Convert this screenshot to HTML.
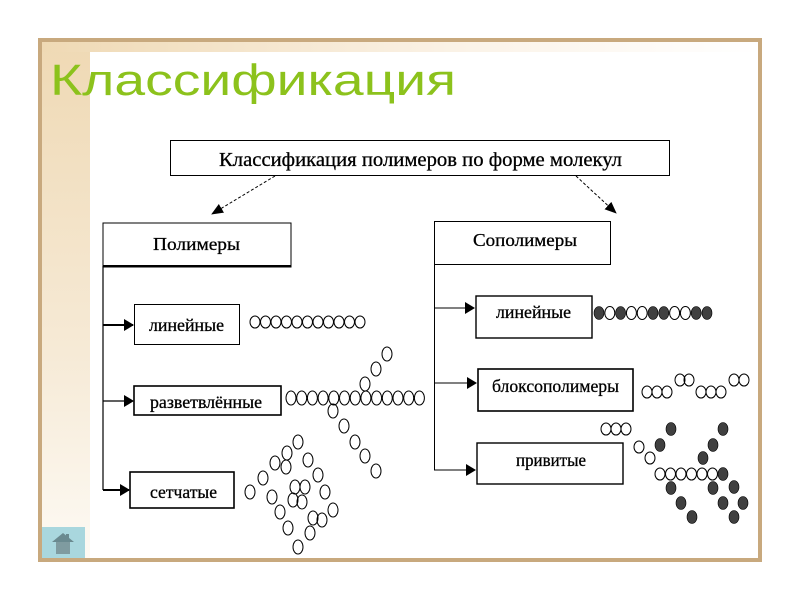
<!DOCTYPE html>
<html><head><meta charset="utf-8"><style>
html,body{margin:0;padding:0;background:#fff;}
body{width:800px;height:600px;position:relative;overflow:hidden;}
</style></head><body>
<svg width="800" height="600" viewBox="0 0 800 600" xmlns="http://www.w3.org/2000/svg">
<defs>
<linearGradient id="side" x1="0" y1="0" x2="0" y2="1">
<stop offset="0" stop-color="#efd9b4"/><stop offset="0.6" stop-color="#f6ead6"/><stop offset="1" stop-color="#fdfaf4"/>
</linearGradient>
<linearGradient id="top" x1="0" y1="0" x2="1" y2="0">
<stop offset="0" stop-color="#efd9b4"/><stop offset="0.6" stop-color="#fbf3e8"/><stop offset="1" stop-color="#ffffff"/>
</linearGradient>
<marker id="ah" markerWidth="8" markerHeight="8" refX="7" refY="4" orient="auto" markerUnits="userSpaceOnUse">
<path d="M0,0 L8,4 L0,8 z" fill="#000"/></marker>
<marker id="ahb" markerWidth="10" markerHeight="12" refX="9" refY="6" orient="auto" markerUnits="userSpaceOnUse">
<path d="M0,0 L10,6 L0,12 z" fill="#000"/></marker>
<marker id="ahd" markerWidth="12" markerHeight="12" refX="11" refY="6" orient="auto" markerUnits="userSpaceOnUse">
<path d="M0,1 L12,6 L0,11 z" fill="#000"/></marker>
</defs>
<rect x="0" y="0" width="800" height="600" fill="#fff"/>
<rect x="40" y="40" width="50" height="520" fill="url(#side)"/>
<rect x="40" y="40" width="720" height="12" fill="url(#top)"/>
<rect x="40" y="40" width="720" height="520" fill="none" stroke="#c8a97e" stroke-width="4"/>
<text x="50" y="95" font-family="Liberation Sans, DejaVu Sans, sans-serif" font-size="44" fill="#8cc21c" textLength="406" lengthAdjust="spacingAndGlyphs">Классификация</text>
<g>
<rect x="42" y="527" width="43" height="31" fill="#a9d7de"/>
<path d="M52,542 L63,533 L74,542 z" fill="#6a8a90"/>
<rect x="56" y="542" width="14" height="12" fill="#7f9ba0"/>
<rect x="66" y="534" width="3" height="6" fill="#6a8a90"/>
</g>

<g font-family="Liberation Serif, serif" fill="#000" stroke="#000" stroke-width="0.3">
<rect x="170.5" y="140.5" width="499" height="35" fill="#fff" stroke="#000" stroke-width="1"/>
<text x="219" y="166" font-size="20" textLength="403" lengthAdjust="spacingAndGlyphs">Классификация полимеров по форме молекул</text>
<text x="153" y="250" font-size="18" textLength="87" lengthAdjust="spacingAndGlyphs">Полимеры</text>
<text x="149" y="331" font-size="18" textLength="75" lengthAdjust="spacingAndGlyphs">линейные</text>
<text x="473" y="246" font-size="18" textLength="104" lengthAdjust="spacingAndGlyphs">Сополимеры</text>
</g>
<g font-family="Liberation Serif, serif" fill="#000">
<line x1="275" y1="176" x2="212" y2="214" stroke="#000" stroke-dasharray="3,2" marker-end="url(#ahd)"/>
<line x1="576" y1="176" x2="616" y2="213" stroke="#000" stroke-dasharray="3,2" marker-end="url(#ahd)"/>

<rect x="103" y="223" width="188" height="44" fill="none" stroke="#000" stroke-width="1"/>
<line x1="103" y1="266" x2="291" y2="266" stroke="#000" stroke-width="2"/>
<line x1="103" y1="266" x2="103" y2="490" stroke="#000" stroke-width="1.2"/>
<line x1="103" y1="325" x2="133" y2="325" stroke="#000" stroke-width="2" marker-end="url(#ahb)"/>
<line x1="103" y1="401" x2="133" y2="401" stroke="#000" stroke-width="1.2" marker-end="url(#ahb)"/>
<line x1="103" y1="490" x2="129" y2="490" stroke="#000" stroke-width="2" marker-end="url(#ahb)"/>
<rect x="134.5" y="304.5" width="105" height="40" fill="none" stroke="#000"/>
<rect x="134" y="386" width="147" height="29" fill="#fff" stroke="#000" stroke-width="1.6"/>
<text x="150" y="408" font-size="18" textLength="112" lengthAdjust="spacingAndGlyphs" stroke="#000" stroke-width="0.3">разветвлённые</text>
<rect x="130" y="472" width="104" height="36" fill="#fff" stroke="#000" stroke-width="1.6"/>
<text x="150" y="498" font-size="18" textLength="67" lengthAdjust="spacingAndGlyphs" stroke="#000" stroke-width="0.3">сетчатые</text>

<rect x="434.5" y="221.5" width="176" height="43" fill="none" stroke="#000"/>
<line x1="434.5" y1="264" x2="434.5" y2="470" stroke="#000"/>
<line x1="434" y1="308" x2="474" y2="308" stroke="#000" marker-end="url(#ahb)"/>
<line x1="434" y1="383" x2="476" y2="383" stroke="#000" marker-end="url(#ahb)"/>
<line x1="434" y1="470" x2="475" y2="470" stroke="#000" marker-end="url(#ahb)"/>
<rect x="476" y="296" width="116" height="42" fill="#fff" stroke="#000" stroke-width="1.4"/>
<text x="496" y="318" font-size="18" textLength="75" lengthAdjust="spacingAndGlyphs" stroke="#000" stroke-width="0.3">линейные</text>
<rect x="478" y="369" width="155" height="42" fill="#fff" stroke="#000" stroke-width="1.6"/>
<text x="492" y="392" font-size="18" textLength="127" lengthAdjust="spacingAndGlyphs" stroke="#000" stroke-width="0.3">блоксополимеры</text>
<rect x="477" y="443" width="146" height="41" fill="#fff" stroke="#000" stroke-width="1.4"/>
<text x="516" y="466" font-size="18" textLength="70" lengthAdjust="spacingAndGlyphs" stroke="#000" stroke-width="0.3">привитые</text>
</g>

<g fill="none" stroke="#000" stroke-width="1">
<ellipse cx="255" cy="322" rx="5" ry="6"/><ellipse cx="265.5" cy="322" rx="5" ry="6"/><ellipse cx="276" cy="322" rx="5" ry="6"/><ellipse cx="286.5" cy="322" rx="5" ry="6"/><ellipse cx="297" cy="322" rx="5" ry="6"/><ellipse cx="307.5" cy="322" rx="5" ry="6"/><ellipse cx="318" cy="322" rx="5" ry="6"/><ellipse cx="328.5" cy="322" rx="5" ry="6"/><ellipse cx="339" cy="322" rx="5" ry="6"/><ellipse cx="349.5" cy="322" rx="5" ry="6"/><ellipse cx="360" cy="322" rx="5" ry="6"/>
<ellipse cx="291" cy="398" rx="5" ry="7"/><ellipse cx="301.7" cy="398" rx="5" ry="7"/><ellipse cx="312.4" cy="398" rx="5" ry="7"/><ellipse cx="323.1" cy="398" rx="5" ry="7"/><ellipse cx="333.8" cy="398" rx="5" ry="7"/><ellipse cx="344.5" cy="398" rx="5" ry="7"/><ellipse cx="355.2" cy="398" rx="5" ry="7"/><ellipse cx="365.9" cy="398" rx="5" ry="7"/><ellipse cx="376.6" cy="398" rx="5" ry="7"/><ellipse cx="387.3" cy="398" rx="5" ry="7"/><ellipse cx="398" cy="398" rx="5" ry="7"/><ellipse cx="408.7" cy="398" rx="5" ry="7"/><ellipse cx="419.4" cy="398" rx="5" ry="7"/>
<ellipse cx="365" cy="384" rx="5" ry="7"/><ellipse cx="376" cy="369" rx="5" ry="7"/><ellipse cx="387" cy="354" rx="5" ry="7"/>
<ellipse cx="333" cy="411" rx="5" ry="7"/><ellipse cx="344" cy="426" rx="5" ry="7"/><ellipse cx="355" cy="442" rx="5" ry="7"/><ellipse cx="365" cy="456" rx="5" ry="7"/><ellipse cx="376" cy="471" rx="5" ry="7"/>
<ellipse cx="298" cy="442" rx="5" ry="7"/><ellipse cx="287" cy="453" rx="5" ry="7"/><ellipse cx="308" cy="460" rx="5" ry="7"/><ellipse cx="275" cy="463" rx="5" ry="7"/><ellipse cx="286" cy="467" rx="5" ry="7"/><ellipse cx="263" cy="478" rx="5" ry="7"/><ellipse cx="318" cy="475" rx="5" ry="7"/><ellipse cx="295" cy="487" rx="5" ry="7"/><ellipse cx="305" cy="487" rx="5" ry="7"/><ellipse cx="250" cy="492" rx="5" ry="7"/><ellipse cx="272" cy="497" rx="5" ry="7"/><ellipse cx="325" cy="492" rx="5" ry="7"/><ellipse cx="293" cy="500" rx="5" ry="7"/><ellipse cx="302" cy="502" rx="5" ry="7"/><ellipse cx="333" cy="510" rx="5" ry="7"/><ellipse cx="280" cy="512" rx="5" ry="7"/><ellipse cx="313" cy="518" rx="5" ry="7"/><ellipse cx="322" cy="520" rx="5" ry="7"/><ellipse cx="288" cy="528" rx="5" ry="7"/><ellipse cx="310" cy="533" rx="5" ry="7"/><ellipse cx="298" cy="547" rx="5" ry="7"/>
<ellipse cx="647" cy="392" rx="5" ry="6"/><ellipse cx="657" cy="392" rx="5" ry="6"/><ellipse cx="667" cy="392" rx="5" ry="6"/>
<ellipse cx="680" cy="380" rx="5" ry="6"/><ellipse cx="689" cy="380" rx="5" ry="6"/>
<ellipse cx="701" cy="392" rx="5" ry="6"/><ellipse cx="711" cy="392" rx="5" ry="6"/><ellipse cx="721" cy="392" rx="5" ry="6"/>
<ellipse cx="734" cy="380" rx="5" ry="6"/><ellipse cx="744" cy="380" rx="5" ry="6"/>
<ellipse cx="606" cy="429" rx="5" ry="6"/><ellipse cx="616" cy="429" rx="5" ry="6"/><ellipse cx="626" cy="429" rx="5" ry="6"/>
<ellipse cx="639" cy="447" rx="5" ry="6"/><ellipse cx="650" cy="458" rx="5" ry="6"/>
<ellipse cx="660" cy="474" rx="5" ry="6"/><ellipse cx="670.5" cy="474" rx="5" ry="6"/><ellipse cx="681" cy="474" rx="5" ry="6"/><ellipse cx="691.5" cy="474" rx="5" ry="6"/><ellipse cx="702" cy="474" rx="5" ry="6"/><ellipse cx="712.5" cy="474" rx="5" ry="6"/>
</g>
<g fill="#404040" stroke="#000" stroke-width="0.6">
<ellipse cx="599" cy="313" rx="5" ry="6.5"/>
<ellipse cx="620.6" cy="313" rx="5" ry="6.5"/>
<ellipse cx="653" cy="313" rx="5" ry="6.5"/><ellipse cx="663.8" cy="313" rx="5" ry="6.5"/>
<ellipse cx="696.2" cy="313" rx="5" ry="6.5"/><ellipse cx="707" cy="313" rx="5" ry="6.5"/>
<ellipse cx="723" cy="474" rx="5" ry="6.5"/>
<ellipse cx="671" cy="429" rx="5" ry="6.5"/><ellipse cx="660" cy="445" rx="5" ry="6.5"/><ellipse cx="703" cy="458" rx="5" ry="6.5"/><ellipse cx="713" cy="445" rx="5" ry="6.5"/><ellipse cx="723" cy="429" rx="5" ry="6.5"/>
<ellipse cx="671" cy="488" rx="5" ry="6.5"/><ellipse cx="681" cy="503" rx="5" ry="6.5"/><ellipse cx="692" cy="517" rx="5" ry="6.5"/><ellipse cx="713" cy="488" rx="5" ry="6.5"/><ellipse cx="734" cy="487" rx="5" ry="6.5"/><ellipse cx="723" cy="503" rx="5" ry="6.5"/><ellipse cx="743" cy="503" rx="5" ry="6.5"/><ellipse cx="734" cy="517" rx="5" ry="6.5"/>
</g>
<g fill="none" stroke="#000" stroke-width="1">
<ellipse cx="609.8" cy="313" rx="5" ry="6.5"/><ellipse cx="631.4" cy="313" rx="5" ry="6.5"/><ellipse cx="642.2" cy="313" rx="5" ry="6.5"/><ellipse cx="674.6" cy="313" rx="5" ry="6.5"/><ellipse cx="685.4" cy="313" rx="5" ry="6.5"/>
</g>
</svg>
</body></html>
